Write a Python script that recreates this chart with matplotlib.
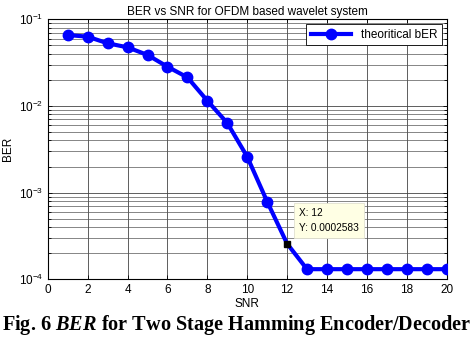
import matplotlib.pyplot as plt
import numpy as np

plt.rcParams['font.family'] = ['Liberation Sans', 'DejaVu Sans']
plt.rcParams['mathtext.fontset'] = 'custom'
plt.rcParams['mathtext.rm'] = 'Liberation Serif'
plt.rcParams['mathtext.bfit'] = 'Liberation Serif:italic:bold'

# BER curve
snr = [1, 2, 3, 4, 5, 6, 7, 8, 9, 10, 11, 12, 13, 14, 15, 16, 17, 18, 19, 20]
ber = [0.0659, 0.0630, 0.0529, 0.0475, 0.0388, 0.0284, 0.0214, 0.0115,
       0.00637, 0.00260, 0.00079, 0.0002583, 0.000131, 0.000131, 0.000131,
       0.000131, 0.000131, 0.000131, 0.000131, 0.000131]
tip_x = 12
tip_y = 0.0002583

fig = plt.figure(figsize=(4.74, 3.39), dpi=100)
ax = fig.add_axes([0.101, 0.176, 0.841, 0.767])

# circle markers everywhere except under the data tip
marks = [i for i, x in enumerate(snr) if x != tip_x]
ax.plot(snr, ber, color='#0000ff', linewidth=3, marker='o', markersize=7.5,
        markevery=marks, label='theoritical bER', zorder=3)

ax.set_yscale('log')
ax.set_xlim(0, 20)
ax.set_ylim(1e-4, 1e-1)
ax.set_xticks(np.arange(0, 21, 2))

ax.grid(True, which='major', color='#444444', linewidth=0.6)
ax.grid(True, which='minor', axis='y', color='#555555', linewidth=0.5)
ax.tick_params(which='both', direction='in', top=True, right=True,
               labelsize=8.5, length=3, width=0.6)
ax.tick_params(which='minor', length=2)
for s in ax.spines.values():
    s.set_linewidth(0.8)

ax.set_title('BER vs SNR for OFDM based wavelet system', fontsize=8.5, pad=3)
ax.set_xlabel('SNR', fontsize=8.5, labelpad=1)
ax.set_ylabel('BER', fontsize=8.5, labelpad=3)

leg = ax.legend(loc='upper right', fontsize=8.5, handlelength=3.4,
                fancybox=False, framealpha=1, edgecolor='black',
                borderaxespad=0.4, borderpad=0.4)
leg.get_frame().set_linewidth(0.6)

# data tip
ax.plot([tip_x], [tip_y], marker='s', color='black', markersize=5, zorder=5)
ax.annotate('X: 12\nY: 0.0002583', xy=(tip_x, tip_y), xytext=(12, 11),
            textcoords='offset pixels', fontsize=7.3, ha='left', va='bottom',
            linespacing=1.6,
            bbox=dict(boxstyle='square,pad=0.5', facecolor='#ffffe4',
                      edgecolor='#e0e0d0', linewidth=0.6), zorder=6)

fig.text(0.5, 0.04, r'Fig. 6 $\mathbfit{BER}$ for Two Stage Hamming Encoder/Decoder',
         ha='center', va='center', fontsize=14.6, fontweight='bold',
         fontfamily='Liberation Serif')

fig.savefig('out.png', dpi=100)
